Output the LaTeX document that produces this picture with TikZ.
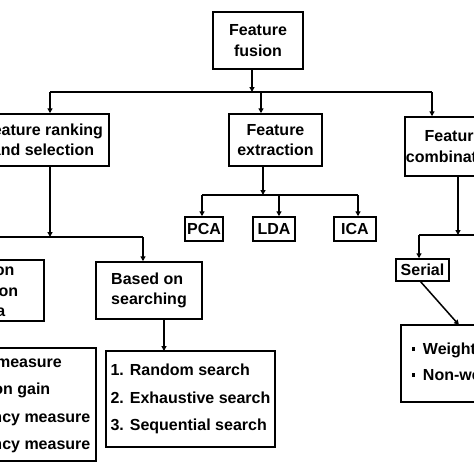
\documentclass[tikz,border=0pt]{standalone}
\usepackage{fontspec}
\setmainfont{Liberation Sans}
\usetikzlibrary{positioning,arrows.meta}
\tikzset{>={Triangle[length=5pt,width=5pt]}}

\begin{document}
\begin{tikzpicture}[x=1pt,y=-1pt,line width=1.5pt]
      \tikzstyle{hnode} = [draw, rectangle, inner sep=0pt, align=center, font=\bfseries\fontsize{16}{20.5}\selectfont]
      \tikzstyle{lnode} = [draw, rectangle, inner sep=0pt, align=left, font=\bfseries\fontsize{16}{27.5}\selectfont]
      \newcommand{\sqbullet}{\raisebox{4pt}{\rule{3.5pt}{3.5pt}}\hspace{7.5pt}}

      \useasboundingbox (0,0) rectangle (474,474);
      \clip (0,0) rectangle (474,474);

      %%%%%%%%%%%%%%%%%%%%%%%%%%%%%%
      %% Top levels
      %%%%%%%%%%%%%%%%%%%%%%%%%%%%%%
      \node[hnode, minimum width=90, minimum height=57] (fusion) at (258,40.5) {Feature\\fusion};

      \node[hnode, minimum width=132, minimum height=52] (rank) at (43,140) {Feature ranking\\and selection};
      \node[hnode, minimum width=93, minimum height=52] (extr) at (275.5,140) {Feature\\extraction};
      \node[hnode, minimum width=97, minimum height=59] (comb) at (453.5,146.5) {Feature\\combination};

      \node[hnode, minimum width=38, minimum height=24] (pca) at (204,229) {PCA};
      \node[hnode, minimum width=42, minimum height=24] (lda) at (274,229) {LDA};
      \node[hnode, minimum width=42, minimum height=24] (ica) at (355,229) {ICA};

      %%%%%%%%%%%%%%%%%%%%%%%%%%%%%%
      %% Ranking branch
      %%%%%%%%%%%%%%%%%%%%%%%%%%%%%%
      \node[hnode, minimum width=131, minimum height=61] (crit) at (-21.5,290.5) {Based on\\evaluation\\criteria};
      \node[hnode, align=left, minimum width=106, minimum height=57] (srch) at (149,290.5) {Based on\\searching};

      \node[lnode, minimum width=196, minimum height=113] (meas) at (-2,404.5) {1. Distance measure\\2. Information gain\\3. Dependency measure\\4. Consistency measure};
      \node[lnode, minimum width=169, minimum height=96] (slist) at (190.5,399) {1. Random search\\2. Exhaustive search\\3. Sequential search};

      %%%%%%%%%%%%%%%%%%%%%%%%%%%%%%
      %% Combination branch
      %%%%%%%%%%%%%%%%%%%%%%%%%%%%%%
      \node[hnode, minimum width=53, minimum height=22] (serial) at (422.5,270) {Serial};
      \node[lnode, font=\bfseries\fontsize{16}{26}\selectfont, minimum width=142, minimum height=77] (wsum) at (472,363.5) {\sqbullet Weighted sum\\\sqbullet Non-weighted};

      % junction points
      \coordinate (b0) at (252,92);
      \coordinate (bl) at (50,92);
      \coordinate (bm) at (261,92);
      \coordinate (br) at (432,92);

      \coordinate (e0) at (263,195);
      \coordinate (el) at (202,195);
      \coordinate (em) at (279,195);
      \coordinate (er) at (358,195);

      \coordinate (r0) at (50,237);
      \coordinate (rr) at (143,237);

      \coordinate (c0) at (458,235);
      \coordinate (cl) at (419,235);

      % edges level 0 to level 1
      \draw[->] (b0 |- fusion.south) -- (b0);
      \draw (bl) -- (br);
      \draw[->] (bl) -- (bl |- rank.north);
      \draw[->] (bm) -- (bm |- extr.north);
      \draw[->] (br) -- (br |- comb.north);

      % edges below extraction
      \draw[->] (e0 |- extr.south) -- (e0);
      \draw (el) -- (er);
      \draw[->] (el) -- (el |- pca.north);
      \draw[->] (em) -- (em |- lda.north);
      \draw[->] (er) -- (er |- ica.north);

      % edges below ranking
      \draw[->] (r0 |- rank.south) -- (r0);
      \draw (-5,237) -- (rr);
      \draw[->] (rr) -- (rr |- srch.north);
      \draw[->] (164,319) -- (164,351);

      % edges below combination
      \draw[->] (c0 |- comb.south) -- (c0);
      \draw (cl) -- (480,235);
      \draw[->] (cl) -- (cl |- serial.north);
      \draw[->] (420,281) -- (459,325);
\end{tikzpicture}
\end{document}
